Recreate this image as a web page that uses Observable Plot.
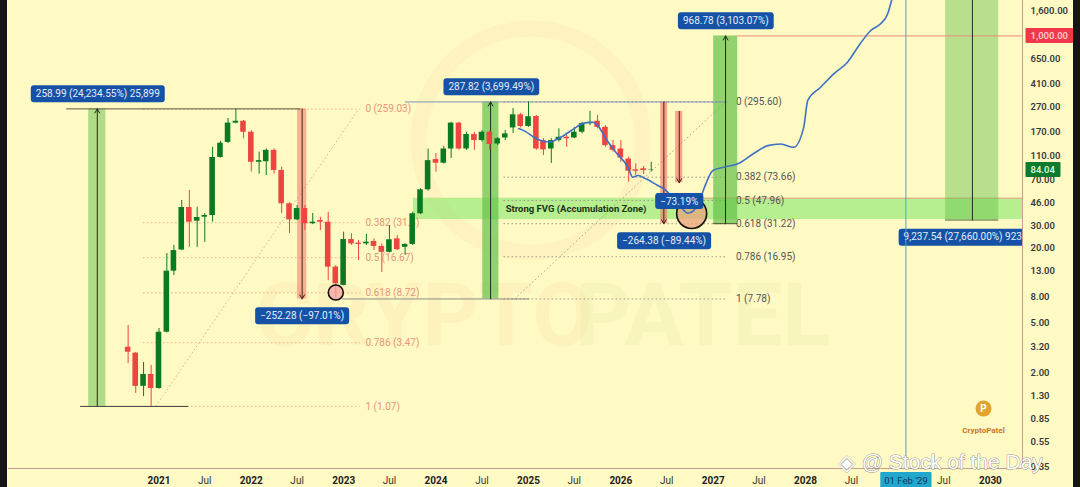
<!DOCTYPE html>
<html><head><meta charset="utf-8">
<script src="https://cdn.jsdelivr.net/npm/d3@7"></script>
<script src="https://cdn.jsdelivr.net/npm/@observablehq/plot@0.6"></script>
<style>
html,body{margin:0;padding:0;background:#fff9c4;overflow:hidden;}
#chart{width:1080px;height:487px;}
</style></head><body><div id="chart"></div>
<script>
// ---------- data ----------
const candleStart = "2020-09-01", candleEnd = "2026-06-01"; // monthly candles
const opens  = [3.19,2.86,1.55,1.93,1.49,4.21,13.0,19.2,42.1,32.7,35.2,36.3,106,140,200,207,169,97,98,121,83.4,45.1,33.5,41.3,31.2,33.1,32.1,14.0,10.0,23.3,21.8,21.5,22.5,20.5,18.4,23.6,20.2,21.3,37.5,58.4,102,95.4,124,200,124,162,145,169,136,152,183,233,188,226,145,124,145,154,152,169,198,207,185,132,124,103,84.5,86,83.4];
const highs  = [4.76,2.90,2.41,2.28,4.51,18.0,20.9,47.9,57.6,42.3,37.7,128,143,218,259,210,174,117,124,124,88.6,46,43.7,43.7,37.7,35.2,38.6,14.4,26.7,25.9,22.9,25.6,23.6,21.5,30.2,25.1,21.5,38.6,59.5,124,114,130,203,203,169,169,174,174,153,174,262,240,295.6,230,150,150,180,159,185,203,249,230,191,145,145,107,94.3,89.7,97];
const lows   = [2.36,1.36,1.28,1.07,1.47,4.15,12.0,19.0,20.2,20.2,22.1,32.1,105,137,197,150,81,78,76,78,37.7,26.1,33,27.5,30.7,27.5,10.9,7.78,9.9,20.9,15.8,20.9,19.0,12.7,18.2,19.0,17.4,20.9,37,57,80.8,94,104,121,121,121,141,121,132,145,165,183,185,121,110,95,141,128,150,164,191,180,128,117,97,67.2,76,77.4,81];
const closes = [2.91,1.55,1.93,1.49,4.21,13.0,19.0,42.1,32.1,35.0,36.3,106,138,200,207,169,97,100,121,83.4,45.1,33.5,41.3,31.2,32.1,32.1,14.0,10.3,23.3,21.5,21.3,22.2,20.5,18.4,23.2,19.3,21.3,37.5,58.4,100,95.4,124,200,124,162,145,169,135,150,164,233,188,225,124,122,145,154,150,169,198,203,185,132,121,105,82.3,82.3,83.4,84.04];

const projDates = ["2024-11-23","2024-12-21","2025-01-22","2025-03-23","2025-05-09","2025-06-29","2025-08-08","2025-09-12","2025-10-02","2025-11-03","2025-12-12","2026-01-29","2026-02-17","2026-03-09","2026-04-10","2026-05-27","2026-06-20","2026-08-26","2026-09-23","2026-10-16","2026-11-13","2026-12-03","2026-12-31","2027-02-12","2027-04-08","2027-06-10","2027-08-05","2027-09-25","2027-11-15","2027-12-25","2028-01-10","2028-03-01","2028-04-22","2028-06-15","2028-08-04","2028-09-15","2028-10-24","2028-11-21","2028-12-07"];
const projValues = [181,171,154,141,154,180,200,203,191,150,117,88.6,73.6,76,71.5,63.2,59.5,42.3,37.9,39.8,50.9,65.2,83.4,88.6,94.3,114,132,136,128,185,304,388,497,616,865,1106,1251,1505,1950];

const fibRatios = [0, 0.382, 0.5, 0.618, 0.786, 1];
const fib1Values = [259.03, 31.8, 16.67, 8.72, 3.47, 1.07];
const fib2Values = [295.60, 73.66, 47.96, 31.22, 16.95, 7.78];

const yTicks = [1600,650,410,270,170,110,70,46,30,20,13,8,5,3.2,2,1.3,0.85,0.55,0.35];
const yearTicks = [2021,2022,2023,2024,2025,2026,2027,2028,2030];
const julTicks = [2021,2022,2023,2024,2025,2026,2027,2028,2029];
const lastPrice = 84.04, targetPrice = 1000, cursorDate = "2029-02-01", cursorLabel = "01 Feb '29";

// measured moves (green up, red down)
const upMoves = [
  {x1:"2020-03-29", x2:"2020-06-05", xm:"2020-05-02", lo:1.07,  hi:260.06, op:0.5},
  {x1:"2024-07-04", x2:"2024-09-06", xm:"2024-08-04", lo:7.78,  hi:295.6,  op:0.7},
  {x1:"2027-01-03", x2:"2027-04-08", xm:"2027-02-19", lo:31.22, hi:1000,   op:0.7},
  {x1:"2029-07-08", x2:"2030-02-03", xm:"2029-10-22", lo:33.4,  hi:9270.94,op:0.45}
];
const downMoves = [
  {x1:"2022-07-03", x2:"2022-08-08", xm:"2022-07-21", from:260.06, to:7.78, op:0.5},
  {x1:"2026-06-08", x2:"2026-07-05", xm:"2026-06-20", from:295.6,  to:31.22, op:0.6},
  {x1:"2026-08-06", x2:"2026-09-03", xm:"2026-08-20", from:248,    to:66.5, op:0.6}
];
const moveLabels = [
  {x:"2020-05-04", y:345,  text:"258.99 (24,234.55%) 25,899"},
  {x:"2022-07-21", y:5.73, text:"−252.28 (−97.01%)"},
  {x:"2024-08-07", y:393,  text:"287.82 (3,699.49%)"},
  {x:"2026-08-20", y:47.2, text:"−73.19%"},
  {x:"2026-06-21", y:22.9, text:"−264.38 (−89.44%)"},
  {x:"2027-02-20", y:1330, text:"968.78 (3,103.07%)"}
];
const edgeLabel = {x:"2029-01-23", y:24.4, text:"9,237.54 (27,660.00%) 923,"};
const hLines = [
  {y:260.06, a:"2020-01-02", b:"2022-07-15", stroke:"#5d573a", dash:"3,1"},
  {y:1.07,   a:"2020-02-26", b:"2021-04-29", stroke:"#3f3f3f", dash:null},
  {y:7.78,   a:"2022-12-28", b:"2025-01-06", stroke:"#8a8a8a", dash:null},
  {y:295.6,  a:"2023-09-02", b:"2027-02-27", stroke:"#8193bd", dash:"2,2"},
  {y:31.22,  a:"2027-01-03", b:"2027-04-08", stroke:"#3b4a2a", dash:null},
  {y:33.4,   a:"2029-07-08", b:"2030-02-03", stroke:"#55653a", dash:null}
];
const fvgZone = {x1:"2023-10-04", lo:33.7, hi:50.0, label:"Strong FVG (Accumulation Zone)", lx:"2025-07-08", ly:41.0};
const circles = [
  {x:"2022-12-01", y:8.76, r:7.5, fill:"#f4a6a0"},
  {x:"2026-10-08", y:37.7, r:15, fill:"#e9a27c"}
];

// ---------- build ----------
const D = s => new Date(s);
const W = 1080, H = 487;
const xMin = D("2019-05-17"), xMax = D("2030-05-08");
const yMin = 0.34, yMax = 1924;
const green = "#0a7a22", red = "#ee4541";
const months = d3.utcMonths(D(candleStart), D(candleEnd));
const candles = months.map((d, i) => ({date:d, open:opens[i], high:highs[i], low:lows[i], close:closes[i]}));
const cColor = d => d.close >= d.open ? green : red;
const proj = projDates.map((d, i) => ({date:D(d), v:projValues[i]}));
const fib1 = fibRatios.map((r, i) => ({r, v:fib1Values[i], label:`${r} (${fib1Values[i].toFixed(2)})`}));
const fib2 = fibRatios.map((r, i) => ({r, v:fib2Values[i], label:`${r} (${fib2Values[i].toFixed(2)})`}));
fib1[1].label = "0.382 (31.8)";
const FONT = "Roboto, 'Liberation Sans', sans-serif";
const fmt2 = d3.format(",.2f");

const chart = Plot.plot({
  width: W, height: H, marginLeft: 8, marginRight: 58, marginTop: 0, marginBottom: 19,
  style: {background: "#fff9c4", fontFamily: FONT, fontSize: "10px", overflow: "visible"},
  x: {type: "utc", domain: [xMin, xMax], axis: null},
  y: {type: "log", domain: [yMin, yMax], axis: null},
  r: {type: "identity"},
  marks: [
    // watermark
    Plot.dot([{x:D("2025-01-10"), y:145}], {x:"x", y:"y", r:112, stroke:"#f3b07c", strokeWidth:16, strokeOpacity:0.07, fill:"none"}),
    Plot.text(["CRYPTO"], {x:()=>D("2023-11-16"), y:()=>5.6, text:d=>d, fontSize:88, fontWeight:"bold", fill:"#f0a26a", fillOpacity:0.08}),
    Plot.text(["PATEL"], {x:()=>D("2026-11-20"), y:()=>5.6, text:d=>d, fontSize:88, fontWeight:"bold", fill:"#9ccf6a", fillOpacity:0.08}),
    // FVG zone
    Plot.rect([fvgZone], {x1:d=>D(d.x1), x2:()=>xMax, y1:"lo", y2:"hi", fill:"#6fe35a", fillOpacity:0.5}),
    Plot.ruleY([fvgZone], {y:"hi", x1:()=>D("2026-06-08"), x2:()=>xMax, stroke:"#ec9c86", strokeWidth:1}),
    // fib 1
    Plot.ruleY(fib1, {y:"v", x1:()=>D("2020-11-01"), x2:()=>D("2023-03-08"), stroke:"#f0a68e", strokeDasharray:"1.5,2.5", strokeOpacity:0.9}),
    Plot.link([0], {x1:()=>D("2020-12-19"), y1:()=>fib1Values[5], x2:()=>D("2023-03-01"), y2:()=>fib1Values[0], stroke:"#f0a68e", strokeDasharray:"1.5,2.5"}),
    Plot.text(fib1, {x:()=>D("2023-03-28"), y:"v", text:"label", textAnchor:"start", fill:"#e8957d", fontSize:10}),
    // fib 2
    Plot.ruleY(fib2, {y:"v", x1:()=>D("2024-09-26"), x2:()=>D("2027-02-27"), stroke:"#9a9884", strokeDasharray:"1.5,2.5"}),
    Plot.link([0], {x1:()=>D("2024-11-07"), y1:()=>fib2Values[5], x2:()=>D("2027-02-19"), y2:()=>fib2Values[0], stroke:"#a6a48e", strokeDasharray:"1.5,2.5"}),
    Plot.text(fib2, {x:()=>D("2027-04-01"), y:"v", text:"label", textAnchor:"start", fill:"#555", fontSize:10}),
    // measured-move bands
    Plot.rect(upMoves, {x1:d=>D(d.x1), x2:d=>D(d.x2), y1:"lo", y2:"hi", fill:"#62c04a", fillOpacity:d=>d.op, clip:true}),
    Plot.rect(downMoves, {x1:d=>D(d.x1), x2:d=>D(d.x2), y1:"to", y2:"from", fill:"#f26a62", fillOpacity:d=>d.op}),
    Plot.ruleY(hLines, {y:"y", x1:d=>D(d.a), x2:d=>D(d.b), stroke:d=>d.stroke, strokeDasharray:d=>d.dash}),
    Plot.ruleY([targetPrice], {y:d=>d, x1:()=>D("2027-04-08"), x2:()=>xMax, stroke:"#ec8c7c", strokeWidth:1}),
    Plot.arrow(upMoves, {x:d=>D(d.xm), y1:"lo", y2:"hi", stroke:"#1f2e1a", strokeWidth:1, headLength:7, clip:true}),
    Plot.arrow(downMoves, {x:d=>D(d.xm), y1:"from", y2:"to", stroke:"#4a1e1a", strokeWidth:1, headLength:7}),
    // candles
    Plot.ruleX(candles, {x:"date", y1:"low", y2:"high", stroke:cColor, strokeWidth:1}),
    Plot.rect(candles, {x1:d=>d3.utcDay.offset(d.date,-11), x2:d=>d3.utcDay.offset(d.date,11), y1:"open", y2:"close", fill:cColor}),
    // circles
    Plot.dot(circles, {x:d=>D(d.x), y:"y", r:"r", fill:"fill", fillOpacity:0.75, stroke:"#111", strokeWidth:1.6}),
    // projection path
    Plot.line(proj, {x:"date", y:"v", stroke:"#3e71c6", strokeWidth:1.6, curve:"monotone-x", clip:true}),
    // FVG label
    Plot.text([fvgZone], {x:d=>D(d.lx), y:"ly", text:"label", fontWeight:"bold", fontSize:9.5, fill:"#1d321a"}),
    // blue move labels
    Plot.text(moveLabels, {x:d=>D(d.x), y:"y", text:"text", fill:"#e4edff", fontSize:10}),
    Plot.text([edgeLabel], {x:d=>D(d.x), y:"y", text:"text", textAnchor:"start", fill:"#e4edff", fontSize:10, clip:true}),
    // cursor
    Plot.ruleX([cursorDate], {x:d=>D(d), stroke:"#4aa6c8", strokeWidth:1}),
    // borders
    Plot.ruleY([yMin], {y:d=>d, stroke:"#c79e92", strokeWidth:1}),
    Plot.ruleX([xMax], {x:d=>d, stroke:"#c79e92", strokeWidth:1}),
    // axes (as text marks)
    Plot.text(yTicks, {x:()=>xMax, y:d=>d, dx:8, text:d=>fmt2(d), textAnchor:"start", fontSize:9.5, fontWeight:600, fill:"#3a3a3a"}),
    Plot.text(yearTicks, {x:d=>new Date(Date.UTC(d,0,1)), y:()=>yMin, dy:12, text:d=>String(d), fontSize:10, fontWeight:"bold", fill:"#222"}),
    Plot.text(julTicks, {x:d=>new Date(Date.UTC(d,6,1)), y:()=>yMin, dy:12, text:()=>"Jul", fontSize:10, fill:"#333"}),
    Plot.text([cursorLabel], {x:()=>D(cursorDate), y:()=>yMin, dy:12, text:d=>d, fill:"#0d3558", fontSize:9.5}),
    Plot.text([targetPrice], {x:()=>xMax, y:d=>d, dx:8, text:d=>fmt2(d), textAnchor:"start", fill:"#ffc9cd", fontSize:9.5, fontWeight:600}),
    Plot.text([lastPrice], {x:()=>xMax, y:d=>d, dx:8, text:d=>d3.format(".2f")(d), textAnchor:"start", fill:"#d6f5d6", fontSize:9.5, fontWeight:600}),
    // logo + watermark
    Plot.dot([0], {x:()=>D("2029-12-05"), y:()=>1.03, r:8, fill:"#e3a32e"}),
    Plot.text(["P"], {x:()=>D("2029-12-05"), y:()=>1.03, text:d=>d, fill:"#fff", fontWeight:"bold", fontSize:10}),
    Plot.text(["CryptoPatel"], {x:()=>D("2029-12-05"), y:()=>0.69, text:d=>d, fill:"#c47a1c", fontWeight:"bold", fontSize:8}),
    Plot.text(["◈"], {x:()=>D("2028-06-12"), y:()=>0.38, text:d=>d, fill:"#ffffff", stroke:"#777", strokeOpacity:0.7, strokeWidth:0.8, fontSize:22, fontFamily:"DejaVu Sans"}),
    Plot.text(["@ Stock of the Day"], {x:()=>D("2028-08-10"), y:()=>0.38, text:d=>d, textAnchor:"start", fill:"#ffffff", stroke:"#6e6e6e", strokeOpacity:0.75, strokeWidth:1, paintOrder:"stroke", fontSize:21, fontFamily:"'Liberation Sans', sans-serif"})
  ]
});

document.getElementById("chart").appendChild(chart);

// background boxes behind label texts (matched by their content)
const boxStyles = new Map();
moveLabels.forEach(d => boxStyles.set(d.text, {fill:"#1552a6", px:5, py:2.5, rx:3}));
boxStyles.set(edgeLabel.text, {fill:"#1552a6", px:5, py:2.5, rx:3});
boxStyles.set(cursorLabel, {fill:"#22a7cc", px:4, py:2.5, rx:1});
boxStyles.set(fmt2(targetPrice), {fill:"#f0384a", px:5, py:2, rx:1});
boxStyles.set(d3.format(".2f")(lastPrice), {fill:"#0d7a2e", px:5, py:2, rx:1});
chart.querySelectorAll("text").forEach(t => {
  const st = boxStyles.get(t.textContent);
  if (!st) return;
  const b = t.getBBox();
  const r = document.createElementNS("http://www.w3.org/2000/svg", "rect");
  r.setAttribute("x", b.x - st.px); r.setAttribute("y", b.y - st.py);
  r.setAttribute("width", b.width + 2 * st.px); r.setAttribute("height", b.height + 2 * st.py);
  r.setAttribute("rx", st.rx); r.setAttribute("fill", st.fill);
  const tr = t.getAttribute("transform"); if (tr) r.setAttribute("transform", tr);
  t.parentNode.insertBefore(r, t);
});

const s = d3.select(chart);
s.append("rect").attr("x", 0).attr("y", 0).attr("width", 7).attr("height", H).attr("fill", "#151515");
s.append("rect").attr("x", 1073).attr("y", 0).attr("width", 7).attr("height", H).attr("fill", "#151515");
</script>
</body></html>
